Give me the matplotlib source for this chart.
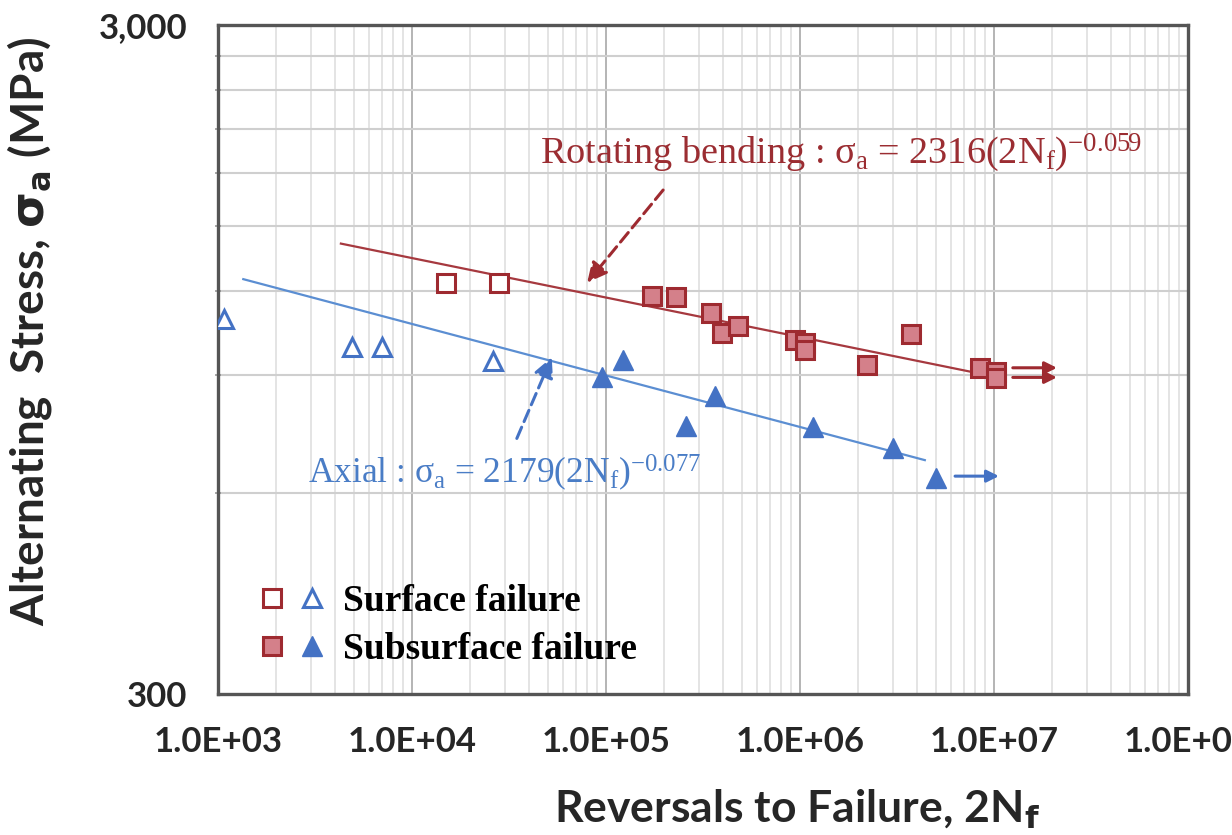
import matplotlib
matplotlib.use("Agg")
import matplotlib.pyplot as plt
import numpy as np
from matplotlib.legend_handler import HandlerTuple
from matplotlib.ticker import FixedLocator, NullFormatter, LogLocator

plt.rcParams["mathtext.fontset"] = "custom"
plt.rcParams["mathtext.rm"] = "Liberation Serif"
plt.rcParams["mathtext.it"] = "Liberation Serif:italic"

# rotating bending data (reversals, stress MPa)
rb_surface_N = [1.5e4, 2.8e4]
rb_surface_S = [1234, 1234]
rb_sub_N = [1.73e5, 2.29e5, 3.47e5, 3.98e5, 4.79e5, 9.4e5, 1.06e6, 1.06e6,
            2.21e6, 3.72e6, 8.5e6, 1.02e7, 1.02e7]
rb_sub_S = [1180, 1176, 1112, 1040, 1065, 1014, 1004, 980, 931, 1036, 920, 910, 890]

# axial data
ax_surface_N = [1.07e3, 4.9e3, 7.0e3, 2.6e4]
ax_surface_S = [1089, 991, 991, 945]
ax_sub_N = [9.5e4, 1.22e5, 2.59e5, 3.65e5, 1.16e6, 3.0e6, 5.0e6]
ax_sub_S = [894, 947, 755, 837, 751, 699, 630]

# Basquin fits: S = A * (2Nf)^b, drawn between n0 and n1
rb_fit = (2316, -0.059, 4.3e3, 9.5e6)
ax_fit = (2179, -0.077, 1.35e3, 4.4e6)

# run-out arrows (from, to, stress)
rb_runouts = [(1.25e7, 2.11e7, 922), (1.25e7, 2.11e7, 892)]
ax_runouts = [(6.3e6, 1.06e7, 635)]

x_ticks = [1e3, 1e4, 1e5, 1e6, 1e7, 1e8]
x_ticklabels = ["1.0E+03", "1.0E+04", "1.0E+05", "1.0E+06", "1.0E+07", "1.0E+08"]
y_ticks = [300, 3000]
y_ticklabels = ["300", "3,000"]
y_minor = [600, 900, 1200, 1500, 1800, 2100, 2400, 2700]

RED_EDGE = "#9E2A30"
RED_FILL = "#D4808A"
RED_LINE = "#A6393F"
RED_TEXT = "#9B2D32"
BLUE = "#4472C4"
BLUE_LINE = "#5B8ED2"
BLUE_TEXT = "#4A7DC6"
SANS = ["Lato", "DejaVu Sans"]
SERIF = ["Liberation Serif", "DejaVu Serif"]

fig = plt.figure(figsize=(12.32, 8.35), dpi=100)
ax = fig.add_axes([218 / 1232, 1 - 694 / 835, 970 / 1232, 669 / 835])
ax.set_xscale("log")
ax.set_yscale("log")
ax.set_xlim(1e3, 1e8)
ax.set_ylim(300, 3000)

# grid (Excel style: minor y lines every 300 MPa)
ax.xaxis.set_major_locator(FixedLocator(x_ticks))
ax.xaxis.set_minor_locator(LogLocator(base=10, subs=np.arange(2, 10)))
ax.xaxis.set_minor_formatter(NullFormatter())
ax.yaxis.set_major_locator(FixedLocator(y_ticks))
ax.yaxis.set_minor_locator(FixedLocator(y_minor))
ax.yaxis.set_minor_formatter(NullFormatter())
ax.grid(True, which="major", axis="x", color="#A8A8A8", lw=1.2, zorder=0)
ax.grid(True, which="minor", axis="x", color="#DCDCDC", lw=1.1, zorder=0)
ax.grid(True, which="minor", axis="y", color="#CFCFCF", lw=1.5, zorder=0)
ax.set_axisbelow(True)

ax.set_xticklabels(x_ticklabels)
ax.set_yticklabels(y_ticklabels)
ax.tick_params(axis="x", which="both", length=0, pad=23)
ax.tick_params(axis="y", which="major", length=0, pad=22)
ax.tick_params(axis="y", which="minor", length=5, width=1.2, color="#9A9A9A", direction="inout")
for lab in ax.get_xticklabels() + ax.get_yticklabels():
    lab.set_fontfamily(SANS)
    lab.set_fontweight("bold")
    lab.set_fontsize(25)
    lab.set_color("#262626")

for sp in ax.spines.values():
    sp.set_color("#555555")
    sp.set_linewidth(2.4)

# fit lines
for (A, b, n0, n1), c in [(rb_fit, RED_LINE), (ax_fit, BLUE_LINE)]:
    n = np.logspace(np.log10(n0), np.log10(n1), 60)
    ax.plot(n, A * n ** b, color=c, lw=1.6, zorder=2)

ms = 12.5
sq_open = ax.plot(rb_surface_N, rb_surface_S, ls="none", marker="s", ms=ms,
                  mfc="white", mec=RED_EDGE, mew=2.2, zorder=3)[0]
sq_fill = ax.plot(rb_sub_N, rb_sub_S, ls="none", marker="s", ms=ms,
                  mfc=RED_FILL, mec=RED_EDGE, mew=2.2, zorder=3)[0]
tri_open = ax.plot(ax_surface_N, ax_surface_S, ls="none", marker="^", ms=ms,
                   mfc="white", mec=BLUE, mew=2.2, zorder=3)[0]
tri_fill = ax.plot(ax_sub_N, ax_sub_S, ls="none", marker="^", ms=ms + 2.5,
                   mfc=BLUE, mec=BLUE, mew=1, zorder=3)[0]

# run-out arrows
for x0, x1, s in rb_runouts:
    ax.annotate("", xy=(x1, s), xytext=(x0, s),
                arrowprops=dict(arrowstyle="-|>", color=RED_EDGE, lw=2.2,
                                mutation_scale=18, shrinkA=0, shrinkB=0))
for x0, x1, s in ax_runouts:
    ax.annotate("", xy=(x1, s), xytext=(x0, s),
                arrowprops=dict(arrowstyle="-|>", color=BLUE, lw=2.2,
                                mutation_scale=18, shrinkA=0, shrinkB=0))

# equations with dashed pointers
ax.text(4.57e4, 1866,
        r"Rotating bending : $\mathrm{\sigma_a}$ = 2316(2N$_\mathrm{f}$)$^{\mathrm{-0.059}}$",
        color=RED_TEXT, fontsize=27.5, family=SERIF, ha="left", va="baseline")
ax.annotate("", xy=(8.0e4, 1236), xytext=(1.97e5, 1700),
            arrowprops=dict(arrowstyle="-|>", color=RED_EDGE, lw=2.2, ls=(0, (4, 2)),
                            mutation_scale=30, shrinkA=0, shrinkB=0))
ax.text(2910, 620,
        r"Axial : $\mathrm{\sigma_a}$ = 2179(2N$_\mathrm{f}$)$^{\mathrm{-0.077}}$",
        color=BLUE_TEXT, fontsize=25.5, family=SERIF, ha="left", va="baseline")
ax.annotate("", xy=(5.25e4, 956), xytext=(3.47e4, 723),
            arrowprops=dict(arrowstyle="-|>", color=BLUE, lw=2.2, ls=(0, (4, 2)),
                            mutation_scale=30, shrinkA=0, shrinkB=0))

# legend
leg = ax.legend([(sq_open, tri_open), (sq_fill, tri_fill)],
                ["Surface failure", "Subsurface failure"],
                handler_map={tuple: HandlerTuple(ndivide=None, pad=0)},
                loc="center left", bbox_to_anchor=(0.035, 0.102),
                frameon=False, borderpad=0, borderaxespad=0,
                handlelength=2.13, handletextpad=0.3, labelspacing=0.35,
                prop={"family": SERIF, "weight": "bold", "size": 27})

fig.text(30 / 1232, 1 - 331 / 835, r"Alternating  Stress, $\mathbf{\sigma_a}$ (MPa)",
         rotation=90, ha="center", va="center", fontsize=33, fontweight="bold",
         family=SANS, color="#262626")
fig.text(797 / 1232, 1 - 822 / 835, r"Reversals to Failure, 2N$_\mathbf{f}$",
         ha="center", va="baseline", fontsize=32, fontweight="bold",
         family=SANS, color="#262626")

fig.savefig("out.png", dpi=100)
